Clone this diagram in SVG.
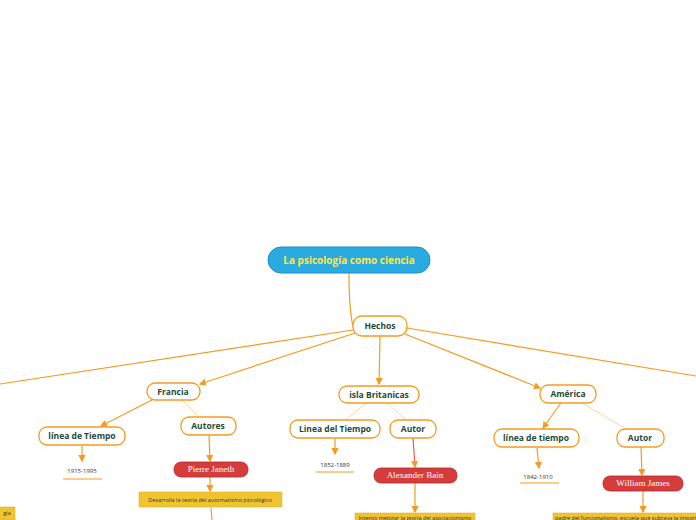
<svg xmlns="http://www.w3.org/2000/svg" width="696" height="520" viewBox="0 0 696 520">
<style>
.n{fill:#fff;stroke:#f59b1e;stroke-width:1.3}
.t{font-family:"Open Sans","Liberation Sans",sans-serif;font-weight:bold;font-size:8.5px;fill:#1f4a3a;text-anchor:middle}
.r{fill:#d63c3c;stroke:#b02a2a;stroke-width:0.8}
.rt{font-family:"Liberation Serif",serif;font-size:9px;fill:#fff;text-anchor:middle}
.y{fill:#f0c330;stroke:#e0a820;stroke-width:0.5}
.yt{font-family:"Open Sans","Liberation Sans",sans-serif;font-size:5.5px;fill:#333;text-anchor:middle}
.d{font-family:"Open Sans","Liberation Sans",sans-serif;font-size:6px;fill:#333;text-anchor:middle}
.c{fill:none;stroke:#f59b1e;stroke-width:1.2}
.cl{fill:none;stroke:#fcc88a;stroke-width:0.8}
.u{stroke:#f59b1e;stroke-width:1.2}
</style>
<defs><marker id="a" markerWidth="6" markerHeight="6" refX="5" refY="3" orient="auto"><path d="M0,0L6,3L0,6z" fill="#f59b1e"/></marker></defs>
<g id="connectors">
<path class="c" d="M349,273 Q349,310 353,326"/>
<path class="c" d="M353,330 L0,384"/>
<path class="c" d="M355,333 L200,384" marker-end="url(#a)"/>
<path class="c" d="M380,336 L379,384" marker-end="url(#a)"/>
<path class="c" d="M405,334 L540,388" marker-end="url(#a)"/>
<path class="c" d="M407,328 L696,376"/>
<path class="c" d="M152,400 L101,426" marker-end="url(#a)"/>
<path class="cl" d="M182,400 L199,417"/>
<path class="c" d="M82,446 L82,461" marker-end="url(#a)"/>
<path class="c" d="M209,435 L210,461" marker-end="url(#a)"/>
<path class="c" d="M210,477 L210,491" marker-end="url(#a)"/>
<path class="c" d="M211,508 L212,520" style="stroke:#f08a8a"/>
<path class="cl" d="M367,403 L345,420"/>
<path class="cl" d="M387,403 L406,420"/>
<path class="c" d="M335,439 L335,454" marker-end="url(#a)"/>
<path class="c" d="M413,438 L415,467" style="stroke:#e85a5a" marker-end="url(#a)"/>
<path class="c" d="M415,483 L415,512" marker-end="url(#a)"/>
<path class="c" d="M561,403 L543,428" marker-end="url(#a)"/>
<path class="cl" d="M582,403 L626,429"/>
<path class="c" d="M537,448 L539,468" marker-end="url(#a)"/>
<path class="c" d="M641,447 L642,475" marker-end="url(#a)"/>
<path class="c" d="M643,491 L643,512" marker-end="url(#a)"/>
</g>
<g id="title"><rect x="268" y="247" width="162" height="26" rx="13" fill="#29abe2" stroke="#1f8fc7"/><text x="349" y="264" class="t" style="fill:#ffe74a;font-size:10px">La psicología como ciencia</text></g>
<g id="hechos"><rect class="n" x="353" y="316" width="54" height="20" rx="9"/><text class="t" x="380" y="329">Hechos</text></g>
<g id="francia"><rect class="n" x="147" y="383" width="53" height="17" rx="8"/><text class="t" x="173" y="395">Francia</text></g>
<g id="lineaF"><rect class="n" x="39" y="427" width="86" height="18" rx="8"/><text class="t" x="82" y="439">línea de Tiempo</text></g>
<g id="fechaF"><text class="d" x="82" y="473">1915-1995</text><line class="u" x1="63" y1="479" x2="102" y2="479"/></g>
<g id="autores"><rect class="n" x="181" y="417" width="55" height="18" rx="8"/><text class="t" x="208" y="429">Autores</text></g>
<g id="janeth"><rect class="r" x="174" y="462" width="74" height="15" rx="7"/><text class="rt" x="211" y="472">Pierre Janeth</text></g>
<g id="janethD"><rect class="y" x="139" y="492" width="143" height="15"/><text class="yt" x="210" y="501.5">Desarrolla la teoría del automatismo psicológico</text></g>
<g id="izq"><rect class="y" x="-20" y="507" width="35" height="13"/><text class="yt" x="7" y="515">gía</text></g>
<g id="isla"><rect class="n" x="339" y="386" width="80" height="17" rx="8"/><text class="t" x="379" y="398">isla Britanicas</text></g>
<g id="lineaB"><rect class="n" x="290" y="420" width="90" height="18" rx="8"/><text class="t" x="335" y="432">Linea del Tiempo</text></g>
<g id="fechaB"><text class="d" x="335" y="467">1852-1889</text><line class="u" x1="316" y1="472" x2="354" y2="472"/></g>
<g id="autorB"><rect class="n" x="390" y="420" width="46" height="18" rx="8"/><text class="t" x="413" y="432">Autor</text></g>
<g id="bain"><rect class="r" x="374" y="468" width="83" height="15" rx="7"/><text class="rt" x="415" y="478">Alexander Bain</text></g>
<g id="bainD"><rect class="y" x="355" y="513" width="120" height="12"/><text class="yt" x="415" y="520">Intento mejorar la teoría del asociacionismo</text></g>
<g id="america"><rect class="n" x="540" y="385" width="56" height="18" rx="8"/><text class="t" x="568" y="397">América</text></g>
<g id="lineaA"><rect class="n" x="494" y="429" width="85" height="18" rx="8"/><text class="t" x="536" y="441">línea de tiempo</text></g>
<g id="fechaA"><text class="d" x="538" y="479">1842-1910</text><line class="u" x1="520" y1="483" x2="559" y2="483"/></g>
<g id="autorA"><rect class="n" x="617" y="429" width="47" height="18" rx="8"/><text class="t" x="640" y="441">Autor</text></g>
<g id="james"><rect class="r" x="603" y="476" width="80" height="15" rx="7"/><text class="rt" x="643" y="486">William James</text></g>
<g id="jamesD"><rect class="y" x="553" y="513" width="160" height="12"/><text class="yt" x="555" y="520" style="text-anchor:start">padre del funcionalismo, escuela que subraya la importancia</text></g>
</svg>
